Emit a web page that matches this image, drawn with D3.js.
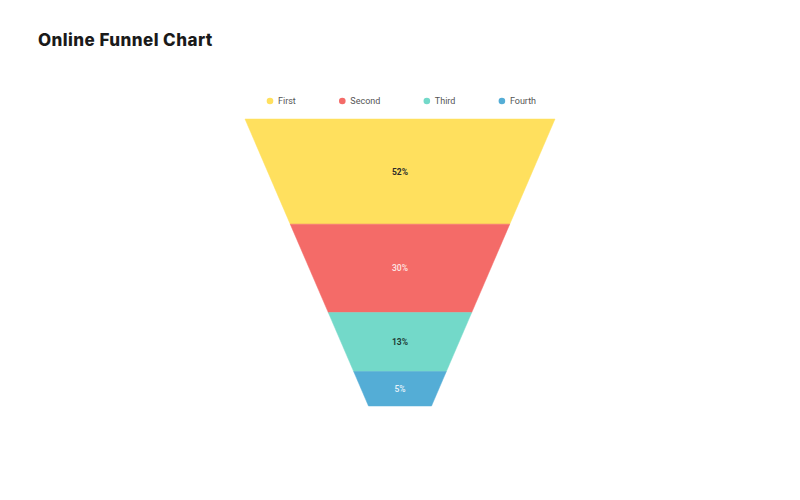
<!DOCTYPE html>
<html>
<head>
<meta charset="utf-8">
<script src="https://cdn.jsdelivr.net/npm/d3@7"></script>
<style>
  body { margin: 0; background: #fff; }
</style>
</head>
<body>
<div id="target"></div>
<script>
let categories = ["First", "Second", "Third", "Fourth"];
let values = [52, 30, 13, 5];
let colors = ["#FFE05E", "#F46B68", "#73D9C9", "#54ADD6"];
let labelColors = ["#2b2b2b", "#fde8e6", "#1f3b36", "#e6f3fa"];

let width = 800,
  height = 500;

let svg = d3.select("#target").append("svg")
  .attr("width", width)
  .attr("height", height);

svg.append("text")
  .attr("x", 38)
  .attr("y", 46)
  .text("Online Funnel Chart")
  .style("font-family", "Inter, 'DejaVu Sans', sans-serif")
  .style("font-weight", 800)
  .style("font-size", "17px")
  .style("letter-spacing", "0.45px")
  .style("fill", "#1a1a1a");

// legend: items laid out one after another, spacing after each label
let legend = svg.selectAll(".legend")
  .data(categories)
  .enter()
  .append("g")
  .attr("class", "legend");

legend.append("circle")
  .attr("r", 3.3)
  .style("fill", (d, i) => colors[i]);

legend.append("text")
  .attr("x", 8)
  .attr("dy", "0.35em")
  .text((d) => d)
  .style("font-family", "Roboto, sans-serif")
  .style("font-size", "9px")
  .style("fill", "#555");

let lx = 270;
legend.each(function () {
  let item = d3.select(this);
  item.attr("transform", "translate(" + lx + ",101)");
  lx += item.select("text").node().getComputedTextLength() + 54.5;
});

// funnel: linear taper, slice area proportional to value
let funnelTop = 119, funnelBottom = 406, cx = 400;
let topW = 310, botW = 63;
let depth = d3.scaleLinear().domain([0, 1]).range([funnelTop, funnelBottom]);
let widthAt = d3.scaleLinear().domain([0, 1]).range([topW, botW]);

let total = d3.sum(values);
// find depth t where the area above it is frac of the whole trapezoid
function solveT(frac) {
  let a = (botW - topW), b = 2 * topW, c = -frac * (topW + botW);
  return (-b + Math.sqrt(b * b - 4 * a * c)) / (2 * a);
}

let cum = 0;
let slices = values.map((v, i) => {
  let t0 = solveT(cum / total);
  cum += v;
  let t1 = solveT(cum / total);
  return { cat: categories[i], value: v, t0: t0, t1: t1, i: i };
});

let g = svg.selectAll(".slice")
  .data(slices)
  .enter()
  .append("g")
  .attr("class", "slice");

g.append("path")
  .attr("d", (d) => {
    let y0 = depth(d.t0), y1 = depth(d.t1);
    let w0 = widthAt(d.t0) / 2, w1 = widthAt(d.t1) / 2;
    return "M" + (cx - w0) + "," + y0 +
      "L" + (cx + w0) + "," + y0 +
      "L" + (cx + w1) + "," + y1 +
      "L" + (cx - w1) + "," + y1 + "Z";
  })
  .style("fill", (d) => colors[d.i])
  .style("stroke", (d) => colors[d.i])
  .style("stroke-width", 0.5);

g.append("text")
  .attr("x", cx)
  .attr("y", (d) => depth((d.t0 + d.t1) / 2))
  .attr("dy", "0.35em")
  .attr("text-anchor", "middle")
  .text((d) => d.value + "%")
  .style("font-family", "Roboto, sans-serif")
  .style("font-size", "8.5px")
  .style("font-weight", (d) => (d.i % 2 === 0 ? 700 : 500))
  .style("fill", (d) => labelColors[d.i]);
</script>
</body>
</html>
